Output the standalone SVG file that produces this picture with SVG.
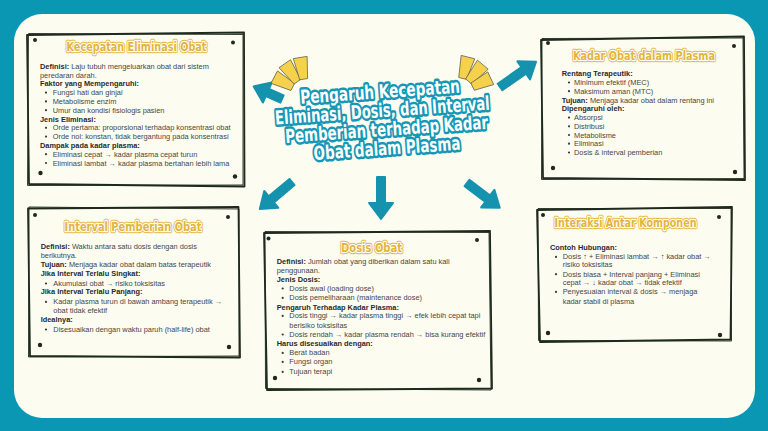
<svg xmlns="http://www.w3.org/2000/svg" width="768" height="431" viewBox="0 0 768 431">
<defs>
<style>
.bg{fill:#0a97b3}
.panel{fill:#fdfcf1}
.box{fill:#fdfcf1;stroke:#1f2a1f;stroke-width:1.8;stroke-linejoin:round}
.box2{fill:none;stroke:#1f2a1f;stroke-width:0.9;stroke-linejoin:round}
.dot{fill:#1f2a1f}
.arr{fill:#1592ad;stroke:#1592ad;stroke-width:2;stroke-linejoin:round}
.ray{fill:#f6d24c;stroke:#5a5a4a;stroke-width:0.7;stroke-linejoin:round}
.t{font-family:"Liberation Sans",Arial,sans-serif;font-size:7.4px;fill:#454545}
.b{font-weight:700;fill:#2a2a2a}
.bul{fill:#3a3a3a}
.h1{font-family:"DejaVu Sans",sans-serif;font-weight:700;font-size:13px;text-anchor:middle;fill:#e2b540;stroke:#e2b540;stroke-width:4.5;stroke-linejoin:round}
.h2{font-family:"DejaVu Sans",sans-serif;font-weight:700;font-size:13px;text-anchor:middle;fill:#e2b540;stroke:#ffffff;stroke-width:2.4;stroke-linejoin:round;paint-order:stroke}
.ct{font-family:"DejaVu Sans",sans-serif;font-weight:700;font-size:19px;text-anchor:middle;fill:#ffffff;stroke:#1597b5;stroke-width:5;stroke-linejoin:round;paint-order:stroke}
</style>
</defs>
<rect class="bg" x="0" y="0" width="768" height="431"/>
<rect class="panel" x="14" y="14" width="741" height="404" rx="28"/>

<g id="connectors">
<g transform="translate(282,99) rotate(-156)"><polygon class="arr" points="0,-4 16,-4 16,-11 31,0 16,11 16,4 0,4"/></g>
<g transform="translate(500,87) rotate(-35)"><polygon class="arr" points="0,-4 29,-4 29,-11 44,0 29,11 29,4 0,4"/></g>
<g transform="translate(292,182) rotate(140)"><polygon class="arr" points="0,-4 27,-4 27,-11 42,0 27,11 27,4 0,4"/></g>
<g transform="translate(381,177) rotate(90)"><polygon class="arr" points="0,-4 26,-4 26,-12 42,0 26,12 26,4 0,4"/></g>
<g transform="translate(467,183) rotate(37)"><polygon class="arr" points="0,-4 26,-4 26,-11 41,0 26,11 26,4 0,4"/></g>
</g>

<g id="title">
<g id="rays-left">
<g transform="translate(306,94) rotate(-152)"><polygon class="ray" points="15,-4 36,-7 36,7 15,4"/></g>
<g transform="translate(306,94) rotate(-125)"><polygon class="ray" points="15,-4 37,-7 37,7 15,4"/></g>
<g transform="translate(306,94) rotate(-99)"><polygon class="ray" points="15,-4 37,-7 37,7 15,4"/></g>
</g>
<g id="rays-right">
<g transform="translate(459,93) rotate(-76)"><polygon class="ray" points="15,-4 37,-7 37,7 15,4"/></g>
<g transform="translate(459,93) rotate(-50)"><polygon class="ray" points="15,-4 37,-7 37,7 15,4"/></g>
<g transform="translate(459,93) rotate(-25)"><polygon class="ray" points="15,-4 35,-7 35,7 15,4"/></g>
</g>
<g transform="rotate(-4 384 120)">
<text class="ct" x="382" y="98" textLength="160" lengthAdjust="spacingAndGlyphs">Pengaruh Kecepatan</text>
<text class="ct" x="383" y="117" textLength="215" lengthAdjust="spacingAndGlyphs">Eliminasi, Dosis, dan Interval</text>
<text class="ct" x="386" y="136" textLength="203" lengthAdjust="spacingAndGlyphs">Pemberian terhadap Kadar</text>
<text class="ct" x="385" y="155" textLength="147" lengthAdjust="spacingAndGlyphs">Obat dalam Plasma</text>
</g>
</g>

<g id="kecepatan">
<path class="box" d="M27,35 L244,32.5 L244.5,186.5 L29,184 Z"/>
<path class="box2" d="M28.5,33.5 L243,34.5 L243,185 L27.5,185.5 Z"/>
<circle class="dot" cx="35" cy="40" r="2"/><circle class="dot" cx="233" cy="42.5" r="2"/><circle class="dot" cx="40.5" cy="173" r="2.2"/><circle class="dot" cx="235" cy="176.5" r="2.2"/>
<text class="h1" x="136.5" y="51" textLength="140" lengthAdjust="spacingAndGlyphs">Kecepatan Eliminasi Obat</text>
<text class="h2" x="136.5" y="51" textLength="140" lengthAdjust="spacingAndGlyphs">Kecepatan Eliminasi Obat</text>
<text class="t" x="40" y="68.7"><tspan class="b">Definisi:</tspan>  Laju tubuh mengeluarkan obat dari sistem</text>
<text class="t" x="40" y="77.5">peredaran darah.</text>
<text class="t b" x="40" y="86.3">Faktor yang Mempengaruhi:</text>
<circle class="bul" cx="46" cy="92.6" r="1.1"/><text class="t" x="52.7" y="95.1">Fungsi hati dan ginjal</text>
<circle class="bul" cx="46" cy="101.4" r="1.1"/><text class="t" x="52.7" y="103.9">Metabolisme enzim</text>
<circle class="bul" cx="46" cy="110.2" r="1.1"/><text class="t" x="52.7" y="112.7">Umur dan kondisi fisiologis pasien</text>
<text class="t b" x="40" y="121.5">Jenis Eliminasi:</text>
<circle class="bul" cx="46" cy="127.8" r="1.1"/><text class="t" x="52.7" y="130.3">Orde pertama: proporsional terhadap konsentrasi obat</text>
<circle class="bul" cx="46" cy="136.6" r="1.1"/><text class="t" x="52.7" y="139.1">Orde nol: konstan, tidak bergantung pada konsentrasi</text>
<text class="t b" x="40" y="147.9">Dampak pada kadar plasma:</text>
<circle class="bul" cx="46" cy="154.2" r="1.1"/><text class="t" x="52.7" y="156.7">Eliminasi cepat → kadar plasma cepat turun</text>
<circle class="bul" cx="46" cy="163" r="1.1"/><text class="t" x="52.7" y="165.5">Eliminasi lambat → kadar plasma bertahan lebih lama</text>
</g>

<g id="kadar">
<path class="box" d="M541,40 L744,36.5 L745,180 L543,178 Z"/>
<path class="box2" d="M542,38.5 L743,38 L744,178.5 L541.5,179.5 Z"/>
<circle class="dot" cx="548" cy="43" r="2"/><circle class="dot" cx="734" cy="46" r="2"/><circle class="dot" cx="553" cy="168" r="2.2"/><circle class="dot" cx="735" cy="172" r="2.2"/>
<text class="h1" x="644" y="59.5" textLength="142" lengthAdjust="spacingAndGlyphs">Kadar Obat dalam Plasma</text>
<text class="h2" x="644" y="59.5" textLength="142" lengthAdjust="spacingAndGlyphs">Kadar Obat dalam Plasma</text>
<text class="t b" x="561.7" y="76">Rentang Terapeutik:</text>
<circle class="bul" cx="569" cy="82.5" r="1.1"/><text class="t" x="574" y="85">Minimum efektif (MEC)</text>
<circle class="bul" cx="569" cy="91.2" r="1.1"/><text class="t" x="574" y="93.7">Maksimum aman (MTC)</text>
<text class="t" x="561.7" y="102.5"><tspan class="b">Tujuan:</tspan> Menjaga kadar obat dalam rentang ini</text>
<text class="t b" x="561.7" y="111.3">Dipengaruhi oleh:</text>
<circle class="bul" cx="569" cy="117.6" r="1.1"/><text class="t" x="574" y="120.1">Absorpsi</text>
<circle class="bul" cx="569" cy="126.3" r="1.1"/><text class="t" x="574" y="128.8">Distribusi</text>
<circle class="bul" cx="569" cy="135" r="1.1"/><text class="t" x="574" y="137.5">Metabolisme</text>
<circle class="bul" cx="569" cy="143.7" r="1.1"/><text class="t" x="574" y="146.2">Eliminasi</text>
<circle class="bul" cx="569" cy="152.5" r="1.1"/><text class="t" x="574" y="155">Dosis &amp; interval pemberian</text>
</g>

<g id="interval">
<path class="box" d="M28,208.5 L238.5,207 L240,357.5 L30,356 Z"/>
<path class="box2" d="M29,207 L239,209 L239,356 L28.5,357 Z"/>
<circle class="dot" cx="35" cy="215" r="2"/><circle class="dot" cx="228" cy="217" r="2"/><circle class="dot" cx="40" cy="345" r="2.2"/><circle class="dot" cx="229" cy="347" r="2.2"/>
<text class="h1" x="133" y="231" textLength="137" lengthAdjust="spacingAndGlyphs">Interval Pemberian Obat</text>
<text class="h2" x="133" y="231" textLength="137" lengthAdjust="spacingAndGlyphs">Interval Pemberian Obat</text>
<text class="t" x="40.7" y="249.4"><tspan class="b">Definisi:</tspan> Waktu antara satu dosis dengan dosis</text>
<text class="t" x="40.7" y="258">berikutnya.</text>
<text class="t" x="40.7" y="266.7"><tspan class="b">Tujuan:</tspan> Menjaga kadar obat dalam batas terapeutik</text>
<text class="t b" x="40.7" y="276">Jika Interval Terlalu Singkat:</text>
<circle class="bul" cx="46" cy="283.5" r="1.1"/><text class="t" x="53.3" y="286">Akumulasi obat → risiko toksisitas</text>
<text class="t b" x="40.7" y="294.4">Jika Interval Terlalu Panjang:</text>
<circle class="bul" cx="46" cy="301.9" r="1.1"/><text class="t" x="53.3" y="304.4">Kadar plasma turun di bawah ambang terapeutik →</text>
<text class="t" x="53.3" y="313.4">obat tidak efektif</text>
<text class="t b" x="40.7" y="322">Idealnya:</text>
<circle class="bul" cx="46" cy="329.5" r="1.1"/><text class="t" x="53.3" y="332">Disesuaikan dengan waktu paruh (half-life) obat</text>
</g>

<g id="dosis">
<path class="box" d="M264,233 L490,231 L492,388.5 L267,390 Z"/>
<path class="box2" d="M265,231.5 L489,232.5 L491,390 L265.5,388.5 Z"/>
<circle class="dot" cx="268.5" cy="238.5" r="2"/><circle class="dot" cx="477" cy="240" r="2"/><circle class="dot" cx="275" cy="378" r="2.2"/><circle class="dot" cx="479" cy="380" r="2.2"/>
<text class="h1" x="371.5" y="252" textLength="61" lengthAdjust="spacingAndGlyphs">Dosis Obat</text>
<text class="h2" x="371.5" y="252" textLength="61" lengthAdjust="spacingAndGlyphs">Dosis Obat</text>
<text class="t" x="276.7" y="263.7"><tspan class="b">Definisi:</tspan> Jumlah obat yang diberikan dalam satu kali</text>
<text class="t" x="276.7" y="272.7">penggunaan.</text>
<text class="t b" x="276.7" y="281.7">Jenis Dosis:</text>
<circle class="bul" cx="282.7" cy="288.5" r="1.1"/><text class="t" x="289.3" y="291">Dosis awal (loading dose)</text>
<circle class="bul" cx="282.7" cy="297.9" r="1.1"/><text class="t" x="289.3" y="300.4">Dosis pemeliharaan (maintenance dose)</text>
<text class="t b" x="276.7" y="309.7">Pengaruh Terhadap Kadar Plasma:</text>
<circle class="bul" cx="282.7" cy="315.9" r="1.1"/><text class="t" x="289.3" y="318.4">Dosis tinggi → kadar plasma tinggi → efek lebih cepat tapi</text>
<text class="t" x="289.3" y="327.7">berisiko toksisitas</text>
<circle class="bul" cx="282.7" cy="334.5" r="1.1"/><text class="t" x="289.3" y="337">Dosis rendah → kadar plasma rendah → bisa kurang efektif</text>
<text class="t b" x="276.7" y="346.4">Harus disesuaikan dengan:</text>
<circle class="bul" cx="282.7" cy="352.9" r="1.1"/><text class="t" x="289.3" y="355.4">Berat badan</text>
<circle class="bul" cx="282.7" cy="361.9" r="1.1"/><text class="t" x="289.3" y="364.4">Fungsi organ</text>
<circle class="bul" cx="282.7" cy="371.9" r="1.1"/><text class="t" x="289.3" y="374.4">Tujuan terapi</text>
</g>

<g id="interaksi">
<path class="box" d="M537,210 L732,207 L730.5,339.5 L540,342 Z"/>
<path class="box2" d="M538,208.5 L731,208.5 L731.5,341 L538.5,340.5 Z"/>
<circle class="dot" cx="543" cy="215" r="2"/><circle class="dot" cx="719" cy="217" r="2"/><circle class="dot" cx="548" cy="333" r="2.2"/><circle class="dot" cx="720" cy="335" r="2.2"/>
<text class="h1" x="625.5" y="227" textLength="142" lengthAdjust="spacingAndGlyphs">Interaksi Antar Komponen</text>
<text class="h2" x="625.5" y="227" textLength="142" lengthAdjust="spacingAndGlyphs">Interaksi Antar Komponen</text>
<text class="t b" x="550" y="250">Contoh Hubungan:</text>
<circle class="bul" cx="556" cy="256.9" r="1.1"/><text class="t" x="562.7" y="259.4">Dosis ↑ + Eliminasi lambat → ↑ kadar obat →</text>
<text class="t" x="562.7" y="267.4">risiko toksisitas</text>
<circle class="bul" cx="556" cy="274.2" r="1.1"/><text class="t" x="562.7" y="276.7">Dosis biasa + Interval panjang + Eliminasi</text>
<text class="t" x="562.7" y="285.4">cepat → ↓ kadar obat → tidak efektif</text>
<circle class="bul" cx="556" cy="291.9" r="1.1"/><text class="t" x="562.7" y="294.4">Penyesuaian interval &amp; dosis → menjaga</text>
<text class="t" x="562.7" y="304.4">kadar stabil di plasma</text>
</g>
</svg>
